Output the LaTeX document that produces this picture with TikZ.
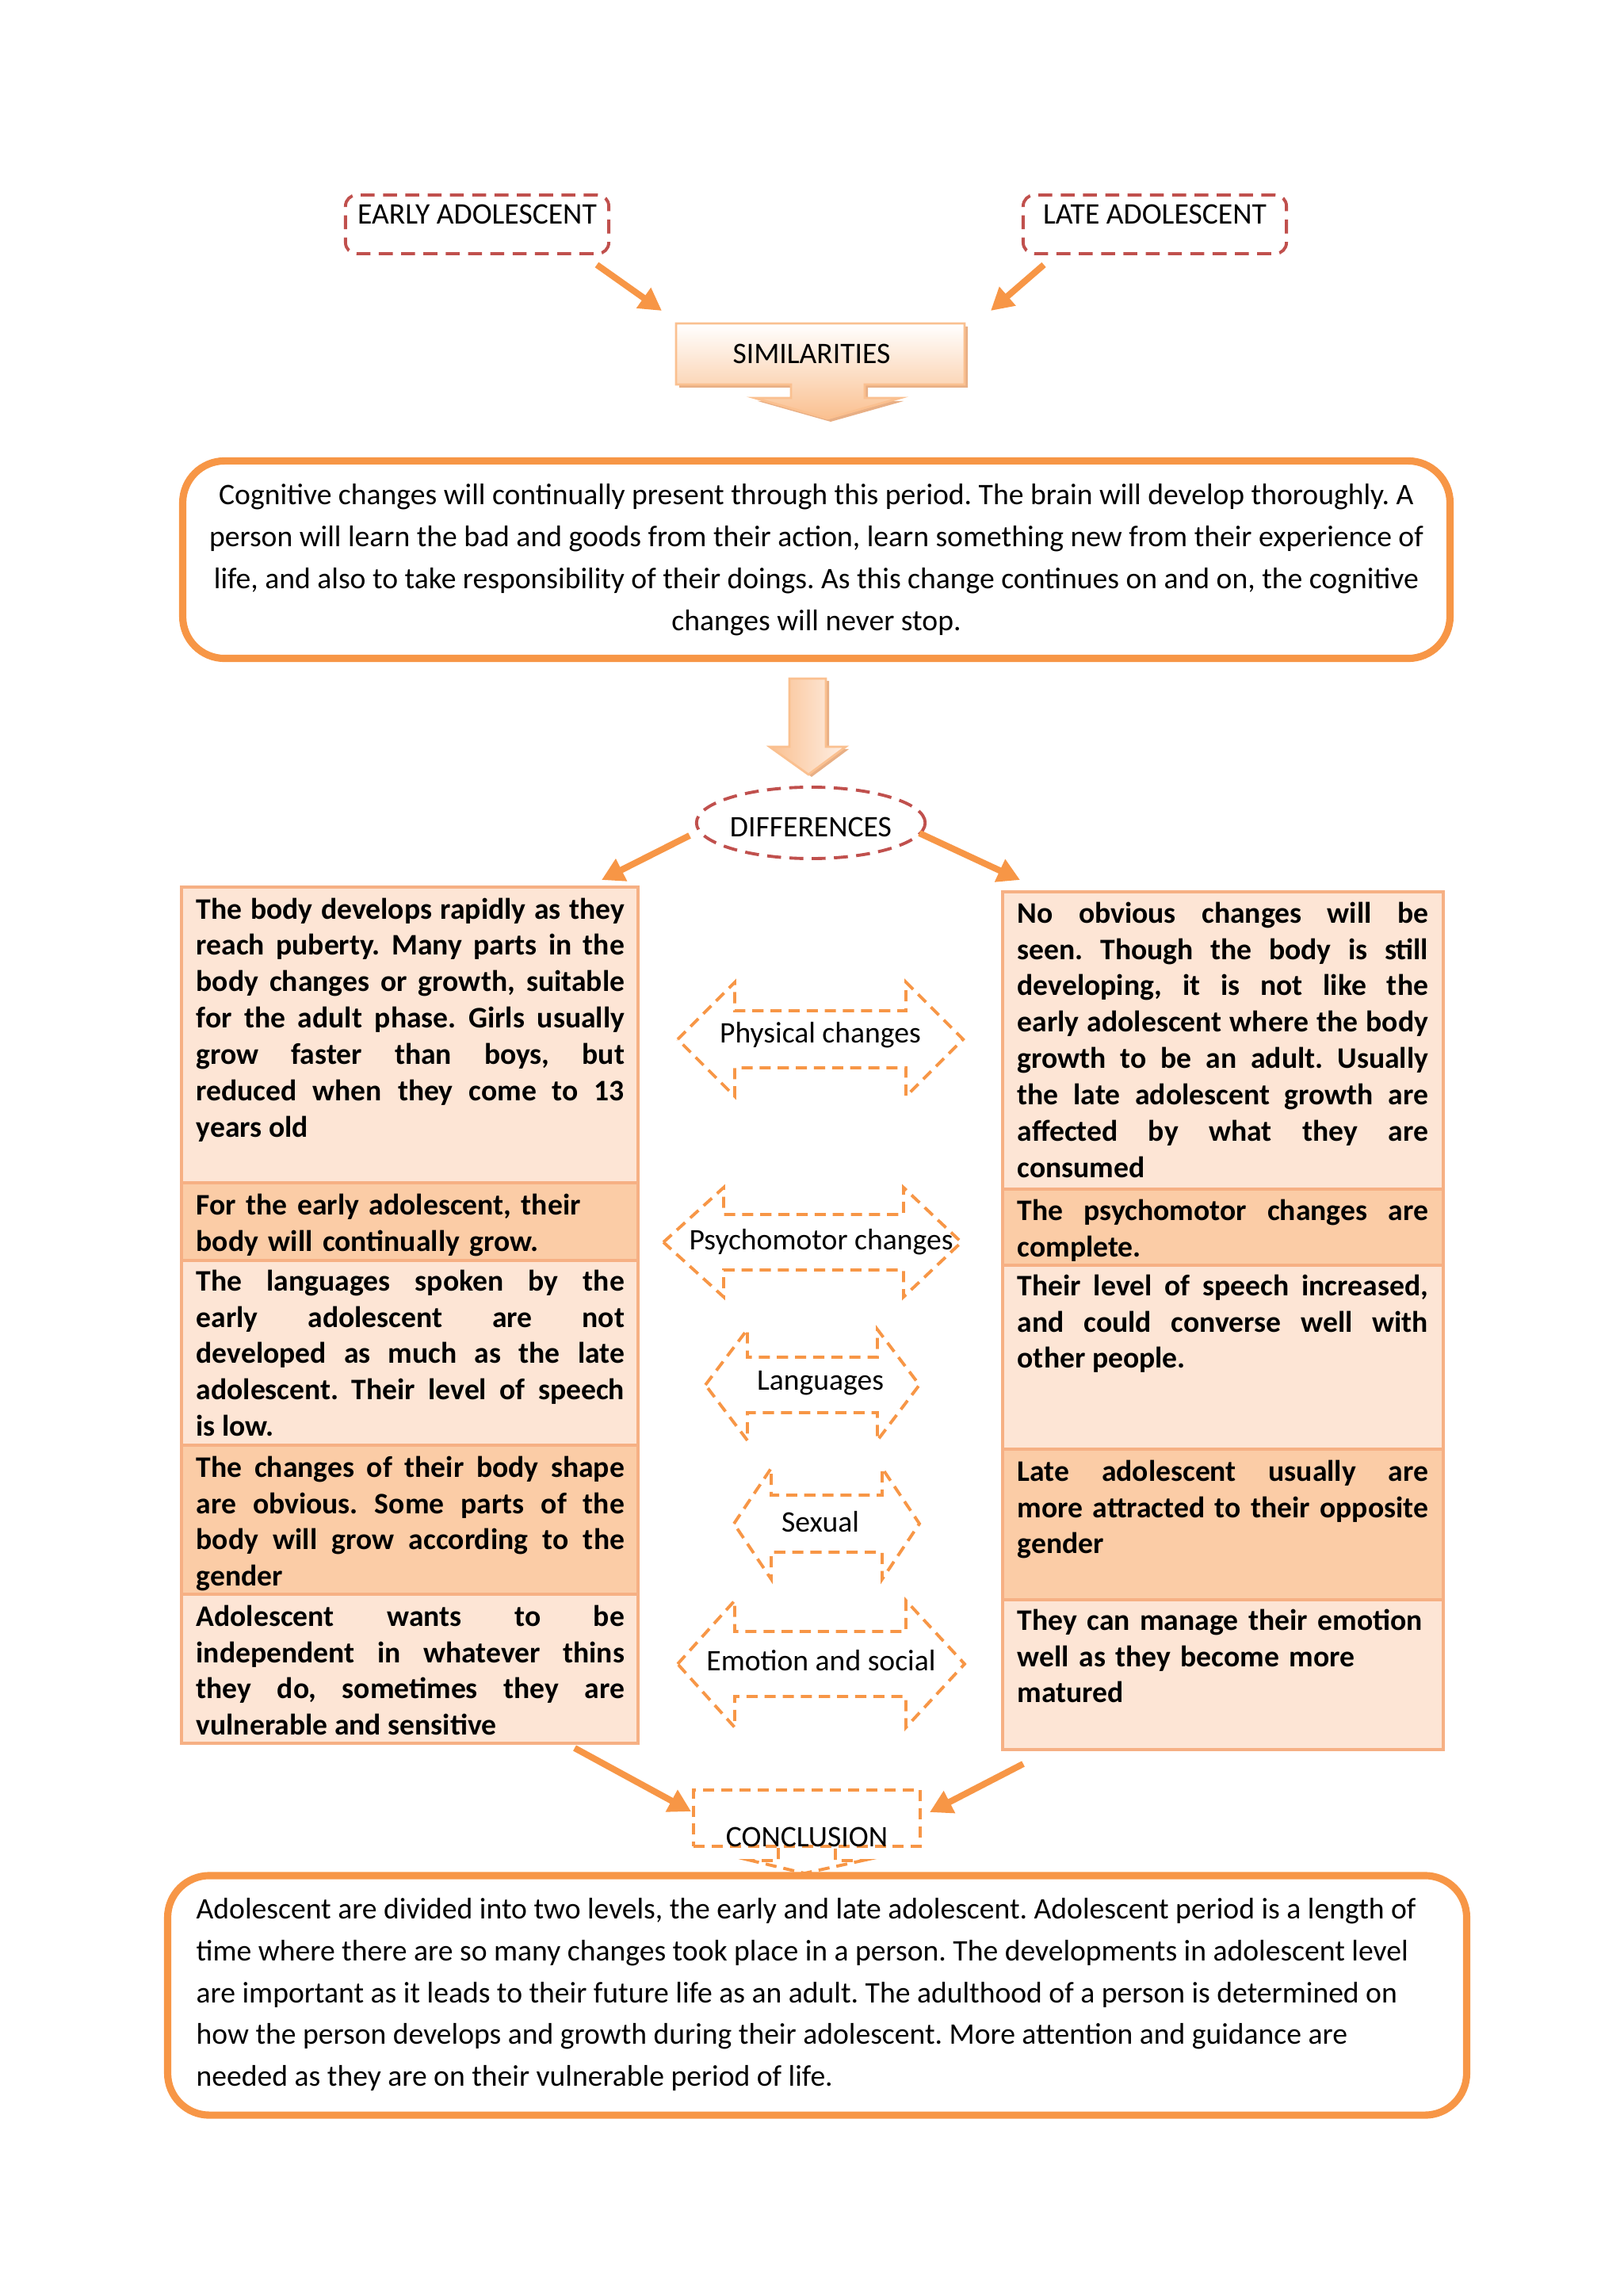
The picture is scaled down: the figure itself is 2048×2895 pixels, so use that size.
\documentclass[tikz,border=0pt]{standalone}
\usepackage{fontspec}
\setmainfont{Carlito}
\usetikzlibrary{arrows.meta,shapes.geometric,positioning}

\definecolor{boxorange}{HTML}{F79646}
\definecolor{boxred}{HTML}{C0504D}
\definecolor{peachlight}{HTML}{FDE5D5}
\definecolor{peachdark}{HTML}{FBCCA6}
\definecolor{peachedge}{HTML}{F6B084}
\definecolor{peachmid}{HTML}{FAC090}
\definecolor{peachshadow}{HTML}{E8AF85}

\tolerance=10000
\hbadness=10000
\hyphenpenalty=10000
\frenchspacing

\tikzset{
  bodyfont/.style={font=\fontsize{10.7}{15.05}\selectfont},
  levelbox/.style={draw=boxred, dash pattern=on 5pt off 3pt, line width=1.1pt,
    rounded corners=4pt, minimum width=3.32cm, inner sep=0pt,
    text height=0.37cm, text depth=0.37cm, bodyfont},
  diffellipse/.style={ellipse, draw=boxred, dash pattern=on 5pt off 3pt, line width=1.1pt,
    minimum width=2.75cm, minimum height=0.9cm, inner sep=0pt,
    text height=0.34cm, text depth=0cm, bodyfont},
  conclbox/.style={draw=boxorange, dash pattern=on 4pt off 2.5pt, line width=1.1pt,
    minimum width=2.86cm, inner sep=0pt, text height=0.71cm, text depth=0pt, bodyfont},
  roundbox/.style={draw=boxorange, line width=2.6pt, rounded corners=15pt, bodyfont},
  bigarrow/.style={draw=boxorange, line width=2.3pt, -{Triangle[length=8pt,width=8.5pt]}},
  blockshape/.style={draw=peachmid, line width=0.8pt, top color=white, bottom color=peachmid},
  dblarrow/.style={draw=boxorange, dash pattern=on 4pt off 2.5pt, line width=1.1pt},
  arrowlabel/.style={inner sep=0pt, font=\fontsize{10.7}{13}\selectfont},
  cellbox/.style={draw=peachedge, line width=0.9pt},
  celltext/.style={anchor=north west, inner sep=0pt, align=justify,
    font=\bfseries\fontsize{10.7}{13.05}\selectfont},
}

\begin{document}
\begin{tikzpicture}[x=0.01cm, y=-0.01cm]
\useasboundingbox (0,0) rectangle (2048,2895);

% the two levels
\node[levelbox] (early) at (602,283) {EARLY ADOLESCENT};
\node[levelbox] (late) at (1457,283) {LATE ADOLESCENT};

% similarities box with its arrow
\fill[peachshadow, shift={(4,4)}] (853,408) -- (1217,408) -- (1217,485) -- (1091,485) -- (1091,502)
  -- (1136,502) -- (1044,528) -- (952,502) -- (998,502) -- (998,485) -- (853,485) -- cycle;
\draw[blockshape] (853,408) -- (1217,408) -- (1217,485) -- (1091,485) -- (1091,502)
  -- (1136,502) -- (1044,528) -- (952,502) -- (998,502) -- (998,485) -- (853,485) -- cycle;
\node[bodyfont, inner sep=0pt] (simil) at (1024,446) {SIMILARITIES};

\coordinate (early-out) at (753,334);
\coordinate (simil-inl) at (835,392);
\coordinate (late-out) at (1317,334);
\coordinate (simil-inr) at (1250,392);
\draw[bigarrow] (early-out) -- (simil-inl);
\draw[bigarrow] (late-out) -- (simil-inr);

% cognitive changes
\node[roundbox, minimum width=15.98cm, minimum height=2.49cm, align=center] (cogn) at (1030,706) {%
Cognitive changes will continually present through this period. The brain will develop thoroughly. A\\
person will learn the bad and goods from their action, learn something new from their experience of\\
life, and also to take responsibility of their doings. As this change continues on and on, the cognitive\\
changes will never stop.};

% block arrow down to differences
\fill[peachshadow, shift={(4,3)}] (996,856) -- (1042,856) -- (1042,942) -- (1067,942) -- (1020,977)
  -- (971,942) -- (996,942) -- cycle;
\draw[draw=peachmid, line width=0.8pt, left color=peachmid, right color=peachlight!60]
  (996,856) -- (1042,856) -- (1042,942) -- (1067,942) -- (1020,977) -- (971,942) -- (996,942) -- cycle;

\node[diffellipse] (diff) at (1023,1038) {DIFFERENCES};

\coordinate (diff-outl) at (870,1054);
\coordinate (early-in) at (759,1110);
\coordinate (diff-outr) at (1160,1051);
\coordinate (late-in) at (1287,1110);
\draw[bigarrow] (diff-outl) -- (early-in);
\draw[bigarrow] (diff-outr) -- (late-in);

% early adolescent column
\draw[cellbox, fill=peachlight] (229,1119) rectangle (805,1492);
\draw[cellbox, fill=peachdark] (229,1492) rectangle (805,1590);
\draw[cellbox, fill=peachlight] (229,1590) rectangle (805,1823);
\draw[cellbox, fill=peachdark] (229,1823) rectangle (805,2011);
\draw[cellbox, fill=peachlight] (229,2011) rectangle (805,2199);

\node[celltext, text width=5.4cm] (early1) at (247,1132) {The body develops rapidly as they\linebreak
reach puberty. Many parts in the\linebreak body changes or growth, suitable\linebreak
for the adult phase. Girls usually\linebreak grow faster than boys, but\linebreak
reduced when they come to 13\linebreak years old};
\node[celltext, text width=5.4cm, align=left] (early2) at (247,1505) {For the early adolescent, their\\
body will continually grow.};
\node[celltext, text width=5.4cm] (early3) at (247,1601) {The languages spoken by the\linebreak
early adolescent are not\linebreak developed as much as the late\linebreak
adolescent. Their level of speech\linebreak is low.};
\node[celltext, text width=5.4cm] (early4) at (247,1836) {The changes of their body shape\linebreak
are obvious. Some parts of the\linebreak body will grow according to the\linebreak gender};
\node[celltext, text width=5.4cm] (early5) at (247,2024) {Adolescent wants to be\linebreak
independent in whatever thins\linebreak they do, sometimes they are\linebreak
vulnerable and sensitive};

% late adolescent column
\draw[cellbox, fill=peachlight] (1265,1125) rectangle (1821,1500);
\draw[cellbox, fill=peachdark] (1265,1500) rectangle (1821,1596);
\draw[cellbox, fill=peachlight] (1265,1596) rectangle (1821,1828);
\draw[cellbox, fill=peachdark] (1265,1828) rectangle (1821,2018);
\draw[cellbox, fill=peachlight] (1265,2018) rectangle (1821,2207);

\node[celltext, text width=5.18cm] (late1) at (1283,1137) {No obvious changes will be\linebreak
seen. Though the body is still\linebreak developing, it is not like the\linebreak
early adolescent where the body\linebreak growth to be an adult. Usually\linebreak
the late adolescent growth are\linebreak affected by what they are\linebreak consumed};
\node[celltext, text width=5.18cm] (late2) at (1283,1512) {The psychomotor changes are\linebreak
complete.};
\node[celltext, text width=5.18cm] (late3) at (1283,1607) {Their level of speech increased,\linebreak
and could converse well with\linebreak other people.};
\node[celltext, text width=5.18cm] (late4) at (1283,1841) {Late adolescent usually are\linebreak
more attracted to their opposite\linebreak gender};
\node[celltext, text width=5.18cm, align=left] (late5) at (1283,2029) {They can manage their emotion\\
well as they become more\\ matured};

% aspects between the columns
\draw[dblarrow] (855,1311) -- (927,1239) -- (927,1275) -- (1143,1275) -- (1143,1239) -- (1215,1311)
  -- (1143,1383) -- (1143,1347) -- (927,1347) -- (927,1383) -- cycle;
\node[arrowlabel] (phys) at (1035,1306) {Physical changes};

\draw[dblarrow] (837,1567) -- (913,1498) -- (913,1532) -- (1140,1532) -- (1140,1498) -- (1213,1567)
  -- (1140,1636) -- (1140,1602) -- (913,1602) -- (913,1636) -- cycle;
\node[arrowlabel] (psycho) at (1036,1567) {Psychomotor changes};

\draw[dblarrow] (890,1747) -- (943,1677) -- (943,1712) -- (1107,1712) -- (1107,1677) -- (1160,1747)
  -- (1107,1817) -- (1107,1782) -- (943,1782) -- (943,1817) -- cycle;
\node[arrowlabel] (lang) at (1035,1745) {Languages};

\draw[dblarrow] (926,1922) -- (973,1852) -- (973,1886) -- (1113,1886) -- (1113,1852) -- (1160,1922)
  -- (1113,1992) -- (1113,1958) -- (973,1958) -- (973,1992) -- cycle;
\node[arrowlabel] (sex) at (1035,1920) {Sexual};

\draw[dblarrow] (855,2099) -- (927,2019) -- (927,2058) -- (1143,2058) -- (1143,2019) -- (1217,2099)
  -- (1143,2179) -- (1143,2140) -- (927,2140) -- (927,2179) -- cycle;
\node[arrowlabel] (emo) at (1036,2095) {Emotion and social};

% conclusion
\node[conclbox, anchor=south] (concl) at (1018,2331) {CONCLUSION};
\draw[dblarrow] (982,2331) -- (982,2347) -- (948,2347) -- (1015,2363) -- (1088,2347) -- (1054,2347) -- (1054,2331);

\coordinate (early-end) at (725,2205);
\coordinate (concl-inl) at (872,2285);
\coordinate (late-end) at (1291,2225);
\coordinate (concl-inr) at (1173,2286);
\draw[bigarrow] (early-end) -- (concl-inl);
\draw[bigarrow] (late-end) -- (concl-inr);

\node[roundbox, minimum width=16.38cm, minimum height=3.02cm] (final) at (1031,2517) {};
\node[bodyfont, align=left, anchor=west, inner sep=0pt] (finaltext) at (247,2516) {%
Adolescent are divided into two levels, the early and late adolescent. Adolescent period is a length of\\
time where there are so many changes took place in a person. The developments in adolescent level\\
are important as it leads to their future life as an adult. The adulthood of a person is determined on\\
how the person develops and growth during their adolescent. More attention and guidance are\\
needed as they are on their vulnerable period of life.};

\end{tikzpicture}
\end{document}
